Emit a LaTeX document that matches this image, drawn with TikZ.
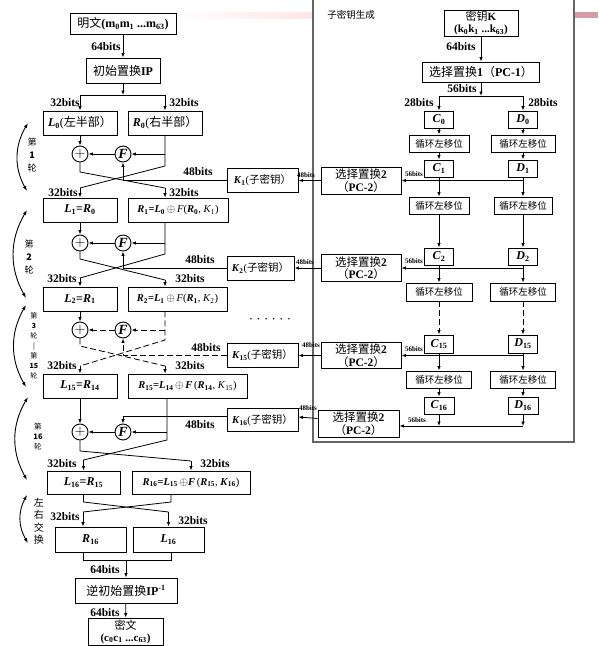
\documentclass[tikz,border=0pt]{standalone}
\usepackage{fontspec}
\setmainfont{Liberation Serif}
\newfontfamily\cjk{Noto Sans CJK SC}
\usetikzlibrary{arrows.meta}
\definecolor{pinkbar}{HTML}{D49CA5}
\newcommand{\vsb}[2]{\textbf{\textit{#1}\textsubscript{#2}}}

\begin{document}
\begin{tikzpicture}[x=1pt, y=-1pt, line width=0.8pt,
    blk/.style={draw, line width=0.9pt, inner sep=1pt, minimum height=24pt, font=\fontsize{12}{13}\selectfont},
    frm/.style={blk, font=\fontsize{10.5}{12}\selectfont},
    cd/.style={blk, minimum width=29pt, minimum height=17pt},
    ls/.style={blk, minimum width=60pt, minimum height=17pt, font=\fontsize{9.5}{10}\selectfont},
    pc/.style={blk, minimum width=80pt, minimum height=27pt, align=center, font=\fontsize{11.5}{12.5}\selectfont},
    kb/.style={blk, minimum width=71pt, minimum height=24pt, font=\fontsize{10.5}{11}\selectfont},
    xo/.style={circle, draw, line width=0.9pt, minimum size=16pt, inner sep=0pt, font=\fontsize{15}{15}\selectfont},
    fb/.style={circle, draw, line width=0.9pt, minimum size=16pt, inner sep=0pt, font=\bfseries\itshape\fontsize{14}{14}\selectfont},
    bits/.style={inner sep=0pt, font=\bfseries\fontsize{11.5}{12}\selectfont},
    tbits/.style={inner sep=0pt, font=\bfseries\fontsize{7}{8}\selectfont},
    lbl/.style={inner sep=0pt, align=center, font=\cjk\fontsize{9}{13}\selectfont},
    arr/.style={-{Latex[length=4.5pt,width=3.5pt]}},
    dsh/.style={dash pattern=on 6pt off 3pt},
    darr/.style={arr, dsh},
    rnd/.style={{Latex[length=5pt,width=3.5pt]}-{Latex[length=5pt,width=3.5pt]}, line width=0.9pt},
    frame/.style={draw=black!60, line width=1.1pt}]
    \useasboundingbox (0,0) rectangle (598,646);
    % slide decoration
    \shade[left color=white, right color=red!10] (170,12) rectangle (313,18);
    \fill[pinkbar] (574,12) rectangle (598,18);

    % subkey frame
    \draw[frame] (313,-2) -- (313,442) -- (574,442) -- (574,-2);
    \node[anchor=west, inner sep=0pt, font=\cjk\fontsize{9.5}{10}\selectfont] (title) at (327,15) {子密钥生成};

    % left column
    \node[blk, minimum width=106pt, minimum height=21pt] (m) at (123,23.5) {{\cjk 明文}\textbf{(m\textsubscript{0}m\textsubscript{1} ...m\textsubscript{63})}};
    \node[blk, minimum width=74pt, minimum height=25pt] (ip) at (123,70.5) {{\cjk 初始置换}\textbf{IP}};
    \node[blk, minimum width=74pt] (L0) at (80,123) {\vsb{L}{0}({\cjk 左半部）}};
    \node[blk, minimum width=74pt] (R0) at (165,123) {\vsb{R}{0}({\cjk 右半部）}};
    \node[xo] (xor1) at (80,154) {$+$};
    \node[fb] (f1) at (123,154) {F};
    \node[kb] (K1) at (262.5,180.5) {\vsb{K}{1}({\cjk 子密钥）}};
    \node[blk, minimum width=74pt] (L1) at (80,210) {\vsb{L}{1}\textbf{=}\vsb{R}{0}};
    \node[frm, minimum width=100pt] (R1) at (178,210) {\vsb{R}{1}\textbf{=}\vsb{L}{0}\,$\oplus$\,\textit{F}(\vsb{R}{0}, \textit{K}\textsubscript{1})};
    \node[xo] (xor2) at (80,243) {$+$};
    \node[fb] (f2) at (123,243) {F};
    \node[kb, minimum width=67pt] (K2) at (260.5,268) {\vsb{K}{2}({\cjk 子密钥）}};
    \node[blk, minimum width=74pt] (L2) at (80,299) {\vsb{L}{2}\textbf{=}\vsb{R}{1}};
    \node[frm, minimum width=99pt] (R2) at (177.5,299) {\vsb{R}{2}\textbf{=}\vsb{L}{1}\,$\oplus$\,\textit{F}(\vsb{R}{1}, \textit{K}\textsubscript{2})};
    \node[xo] (xor3) at (80,330) {$+$};
    \node[fb] (f3) at (123,330) {F};
    \node[kb] (K15) at (262.5,355.5) {\vsb{K}{15}({\cjk 子密钥）}};
    \node[blk, minimum width=74pt] (L15) at (80,386) {\vsb{L}{15}\textbf{=}\vsb{R}{14}};
    \node[frm, minimum width=119pt] (R15) at (187.5,386) {\vsb{R}{15}\textbf{=}\vsb{L}{14}\,$\oplus$\,\textbf{\textit{F}}\,(\vsb{R}{14}, \textit{K}\textsubscript{15})};
    \node[xo] (xor16) at (80,432) {$+$};
    \node[fb] (f16) at (123,432) {F};
    \node[kb, minimum height=23pt] (K16) at (262.5,420) {\vsb{K}{16}({\cjk 子密钥）}};
    \node[blk, minimum width=73pt, minimum height=23pt] (L16) at (83.5,482.5) {\vsb{L}{16}\textbf{=}\vsb{R}{15}};
    \node[frm, minimum width=118pt, minimum height=23pt] (R16) at (191,482.5) {\vsb{R}{16}\textbf{=}\vsb{L}{15}\,$\oplus$\textbf{\textit{F}}\,(\vsb{R}{15}, \vsb{K}{16})};
    \node[blk, minimum width=71pt, minimum height=25pt] (sR) at (90.5,539.5) {\vsb{R}{16}};
    \node[blk, minimum width=71pt, minimum height=25pt] (sL) at (168.5,539.5) {\vsb{L}{16}};
    \node[blk, minimum width=102pt, minimum height=25pt] (ipinv) at (126,590.5) {{\cjk 逆初始置换}\textbf{IP\textsuperscript{-1}}};
    \node[blk, minimum width=75pt, minimum height=27pt, align=center, font=\fontsize{11}{12}\selectfont] (c) at (125.5,631.5) {{\cjk 密文}\\\textbf{(c\textsubscript{0}c\textsubscript{1} ...c\textsubscript{63})}};

    % right column
    \node[blk, minimum width=74pt, minimum height=26pt, align=center, font=\fontsize{11}{12}\selectfont] (k) at (481,23) {{\cjk 密钥}\textbf{K}\\\textbf{(k\textsubscript{0}k\textsubscript{1} ...k\textsubscript{63})}};
    \node[blk, minimum width=117pt, minimum height=20pt] (pc1) at (481,72) {{\cjk 选择置换}\textbf{1}{\cjk （}\textbf{PC-1}{\cjk ）}};
    \node[cd] (C0) at (439,119.5) {\vsb{C}{0}};
    \node[cd] (D0) at (523,119.5) {\vsb{D}{0}};
    \node[ls] (lsC1) at (439,143.5) {\cjk 循环左移位};
    \node[ls, minimum width=64pt] (lsD1) at (523,143.5) {\cjk 循环左移位};
    \node[cd] (C1) at (439,168.5) {\vsb{C}{1}};
    \node[cd] (D1) at (523,168.5) {\vsb{D}{1}};
    \node[ls] (lsC2) at (439,205.5) {\cjk 循环左移位};
    \node[ls, minimum width=58pt] (lsD2) at (523,205.5) {\cjk 循环左移位};
    \node[cd] (C2) at (439,256.5) {\vsb{C}{2}};
    \node[cd] (D2) at (523,256.5) {\vsb{D}{2}};
    \node[ls, minimum width=66pt, minimum height=18pt] (lsC3) at (439,292) {\cjk 循环左移位};
    \node[ls, minimum width=65pt, minimum height=18pt] (lsD3) at (523,292) {\cjk 循环左移位};
    \node[cd, minimum height=18pt] (C15) at (439,344) {\vsb{C}{15}};
    \node[cd, minimum height=18pt] (D15) at (523,344) {\vsb{D}{15}};
    \node[ls, minimum width=65pt] (lsC4) at (439,379.5) {\cjk 循环左移位};
    \node[ls, minimum width=65pt] (lsD4) at (523,379.5) {\cjk 循环左移位};
    \node[cd, minimum width=30pt] (C16) at (439,405.5) {\vsb{C}{16}};
    \node[cd, minimum width=30pt] (D16) at (523,405.5) {\vsb{D}{16}};
    \node[pc] (pcA) at (361,180.5) {{\cjk 选择置换}\textbf{2}\\{\cjk （}\textbf{PC-2}{\cjk ）}};
    \node[pc] (pcB) at (361,268) {{\cjk 选择置换}\textbf{2}\\{\cjk （}\textbf{PC-2}{\cjk ）}};
    \node[pc, minimum height=26pt] (pcC) at (361,355.5) {{\cjk 选择置换}\textbf{2}\\{\cjk （}\textbf{PC-2}{\cjk ）}};
    \node[pc, minimum width=81pt] (pcD) at (358.5,423.5) {{\cjk 选择置换}\textbf{2}\\{\cjk （}\textbf{PC-2}{\cjk ）}};

    % junction points
    \coordinate (sp) at (123,95);
    \coordinate (r1a) at (165,166);
    \coordinate (r1b) at (80,188);
    \coordinate (l1a) at (80,172);
    \coordinate (l1b) at (165,188);
    \coordinate (r2a) at (165,254);
    \coordinate (r2b) at (80,278);
    \coordinate (l2a) at (80,259);
    \coordinate (l2b) at (165,280);
    \coordinate (r3a) at (165,340);
    \coordinate (r3b) at (80,366);
    \coordinate (l3a) at (80,346);
    \coordinate (l3b) at (165,366);
    \coordinate (r4a) at (167,440);
    \coordinate (r4b) at (83.5,460);
    \coordinate (l4a) at (80,451);
    \coordinate (l4b) at (191,461);
    \coordinate (w1a) at (83.5,502);
    \coordinate (w1b) at (168.5,512);
    \coordinate (w2a) at (171,502);
    \coordinate (w2b) at (83,512);
    \coordinate (m1) at (83,560);
    \coordinate (m2) at (171,560);
    \coordinate (m3) at (126,560);
    \coordinate (ks) at (481,96);
    \coordinate (j4) at (523,426);

    % data path
    \draw[arr] (m) -- (ip);
    \draw[arr] (ip) -- (sp);
    \draw (L0 |- sp) -- (R0 |- sp);
    \draw[arr] (L0 |- sp) -- (L0);
    \draw[arr] (R0 |- sp) -- (R0);
    \draw[arr] (L0) -- (xor1);
    \draw (R0) -- (r1a) -- (r1b);
    \draw[arr] (R0 |- f1) -- (f1);
    \draw[arr] (f1) -- (xor1);
    \draw (xor1) -- (l1a) -- (l1b);
    \draw[arr] (r1b) -- (L1);
    \draw[arr] (l1b) -- (l1b |- R1.north);
    \draw[arr] (K1) -| (f1);

    \draw[arr] (L1) -- (xor2);
    \draw (R1.south -| r2a) -- (r2a) -- (r2b);
    \draw[arr] (r2a |- f2) -- (f2);
    \draw[arr] (f2) -- (xor2);
    \draw (xor2) -- (l2a) -- (l2b);
    \draw[arr] (r2b) -- (L2);
    \draw[arr] (l2b) -- (l2b |- R2.north);
    \draw[arr] (K2) -| (f2);

    \draw[darr] (L2) -- (xor3);
    \draw[dsh] (R2.south -| r3a) -- (r3a) -- (r3b);
    \draw[darr] (r3a |- f3) -- (f3);
    \draw[darr] (f3) -- (xor3);
    \draw[dsh] (xor3) -- (l3a) -- (l3b);
    \draw[darr] (r3b) -- (L15);
    \draw[darr] (l3b) -- (l3b |- R15.north);
    \draw[darr] (K15) -| (f3);

    \draw[arr] (L15) -- (xor16);
    \draw (R15.south -| r4a) -- (r4a) -- (r4b);
    \draw[arr] (r4a |- f16) -- (f16);
    \draw[arr] (f16) -- (xor16);
    \draw (xor16) -- (l4a) -- (l4b);
    \draw[arr] (r4b) -- (L16);
    \draw[arr] (l4b) -- (R16);
    \draw[arr] ([yshift=4pt]K16.west) -| (f16);

    \draw (L16) -- (w1a) -- (w1b);
    \draw[arr] (w1b) -- (sL);
    \draw (R16.south -| w2a) -- (w2a) -- (w2b);
    \draw[arr] (w2b) -- (w2b |- sR.north);
    \draw (sR.south -| m1) -- (m1) -- (m2) -- (sL.south -| m2);
    \draw[arr] (m3) -- (ipinv);
    \draw[arr] (ipinv) -- (c);

    % key schedule
    \draw[arr] (k) -- (pc1);
    \draw[arr] (pc1) -- (ks);
    \draw (C0 |- ks) -- (D0 |- ks);
    \draw[arr] (C0 |- ks) -- (C0);
    \draw[arr] (D0 |- ks) -- (D0);
    \draw[arr] (C0) -- (lsC1);
    \draw[arr] (D0) -- (lsD1);
    \draw[arr] (lsC1) -- (C1);
    \draw[arr] (lsD1) -- (D1);
    \draw[arr] (C1) -- (lsC2);
    \draw[arr] (D1) -- (lsD2);
    \draw[arr] (lsC2) -- (C2);
    \draw[arr] (lsD2) -- (D2);
    \draw[arr] (C2) -- (lsC3);
    \draw[arr] (D2) -- (lsD3);
    \draw[darr] (lsC3) -- (C15);
    \draw[darr] (lsD3) -- (D15);
    \draw[arr] (C15) -- (lsC4);
    \draw[arr] (D15) -- (lsD4);
    \draw[arr] (lsC4) -- (C16);
    \draw[arr] (lsD4) -- (D16);
    \draw[arr] (C16) -- (C16 |- j4);
    \draw[arr] (D16) -- (j4);
    \draw[arr] (j4) -- (pcD.east |- j4);
    \draw[arr] (D1 |- pcA) -- (pcA);
    \draw[arr] (D2 |- pcB) -- (pcB);
    \draw[arr] (D15 |- pcC) -- (pcC);
    \draw[arr] (pcA) -- (K1);
    \draw[arr] (pcB) -- (K2);
    \draw[arr] (pcC) -- (K15);
    \draw[arr] ([yshift=5pt]pcD.west) -- ([yshift=3pt]K16.east);

    % bit widths
    \node[bits] (b1) at (106,47) {64bits};
    \node[bits] (b2) at (65,103) {32bits};
    \node[bits] (b3) at (184,103) {32bits};
    \node[bits] (b4) at (198,172) {48bits};
    \node[bits] (b5) at (63,193) {32bits};
    \node[bits] (b6) at (184,193) {32bits};
    \node[bits] (b7) at (200,260) {48bits};
    \node[bits] (b8) at (62,279) {32bits};
    \node[bits] (b9) at (190,279) {32bits};
    \node[bits] (b10) at (206,348) {48bits};
    \node[bits] (b11) at (62,366) {32bits};
    \node[bits] (b12) at (190,366) {32bits};
    \node[bits] (b13) at (200,425) {48bits};
    \node[bits] (b14) at (62,464) {32bits};
    \node[bits] (b15) at (215,464) {32bits};
    \node[bits] (b16) at (65,517) {32bits};
    \node[bits] (b17) at (193,521) {32bits};
    \node[bits] (b18) at (105,570) {64bits};
    \node[bits] (b19) at (105,613) {64bits};
    \node[bits] (k1) at (461,47) {64bits};
    \node[bits] (k2) at (462,89) {56bits};
    \node[bits] (k3) at (419,103) {28bits};
    \node[bits] (k4) at (543,103) {28bits};
    \node[tbits] (t1) at (414,174) {56bits};
    \node[tbits] (t2) at (414,261) {56bits};
    \node[tbits] (t3) at (414,349) {56bits};
    \node[tbits] (t4) at (417,420) {56bits};
    \node[tbits] (u1) at (306,175) {48bits};
    \node[tbits] (u2) at (305,262) {48bits};
    \node[tbits] (u3) at (311,345) {48bits};
    \node[tbits] (u4) at (308,408) {48bits};
    \node[inner sep=0pt, font=\fontsize{13}{13}\selectfont] (dots) at (270,321) {· · · · · ·};

    % rounds
    \draw[rnd] (28,123) to[bend right=30] (27,191);
    \draw[rnd] (27,210) to[bend right=30] (26,298);
    \draw[rnd] (26,305) to[bend right=30] (26,387);
    \draw[rnd] (28,397) to[bend right=30] (27,480);
    \draw[rnd] (27,495) to[bend right=30] (28,543);
    \node[lbl] (n1) at (32,155) {第\\\textbf{1}\\轮};
    \node[lbl] (n2) at (29,257) {第\\\textbf{2}\\轮};
    \node[lbl, font=\cjk\fontsize{7}{10}\selectfont] (n3) at (34,346) {第\\\textbf{3}\\轮\\|\\第\\\textbf{15}\\轮};
    \node[lbl, font=\cjk\fontsize{7.5}{10}\selectfont] (n4) at (38,437) {第\\\textbf{16}\\轮};
    \node[lbl, font=\cjk\fontsize{10}{12.5}\selectfont] (n5) at (39,521) {左\\右\\交\\换};
\end{tikzpicture}
\end{document}
